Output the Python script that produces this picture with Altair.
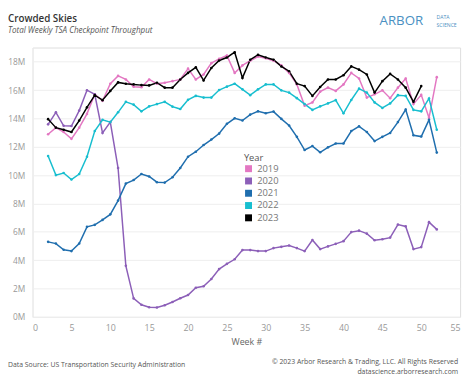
import altair as alt
import pandas as pd

weeks = list(range(2, 53))
weeks_2023 = list(range(2, 51))

y2019 = [12.88, 13.35, 13.04, 12.56, 13.35, 14.32, 15.70, 15.24, 16.45, 17.00,
         16.75, 16.24, 16.20, 16.75, 16.45, 16.52, 16.63, 16.75, 17.51, 16.75,
         17.10, 17.90, 18.20, 18.44, 17.21, 17.74, 18.07, 18.37, 18.25, 18.07,
         17.74, 17.21, 16.40, 14.90, 15.13, 15.89, 16.17, 15.94, 16.40, 17.21,
         16.82, 15.47, 15.70, 15.98, 15.43, 16.17, 16.82, 15.01, 15.66, 14.04,
         16.91]
y2020 = [13.58, 14.43, 13.48, 13.46, 14.55, 15.99, 15.70, 12.97, 13.74, 10.50,
         3.60, 1.30, 0.85, 0.68, 0.66, 0.82, 1.05, 1.31, 1.54, 2.05,
         2.16, 2.67, 3.37, 3.74, 4.06, 4.71, 4.71, 4.64, 4.64, 4.85,
         4.94, 5.03, 4.85, 4.64, 5.42, 4.78, 4.97, 5.15, 5.34, 5.98,
         6.08, 5.87, 5.40, 5.47, 5.59, 6.51, 6.38, 4.78, 4.92, 6.68,
         6.17]
y2021 = [5.29, 5.17, 4.73, 4.64, 5.17, 6.35, 6.49, 6.84, 7.23, 8.20,
         9.40, 9.65, 10.08, 9.90, 9.50, 9.47, 9.85, 10.50, 11.30, 11.65,
         12.12, 12.51, 12.93, 13.62, 14.01, 13.85, 14.27, 14.50, 14.36, 14.48,
         13.97, 13.50, 12.70, 11.77, 12.05, 11.61, 11.96, 12.23, 12.23, 13.11,
         13.44, 13.04, 12.40, 12.70, 12.97, 13.74, 14.62, 12.81, 12.72, 13.90,
         11.59]
y2022 = [11.35, 10.00, 10.15, 9.69, 10.08, 11.30, 13.11, 13.90, 13.74, 14.43,
         15.17, 14.97, 14.50, 14.85, 15.01, 15.17, 14.83, 14.66, 15.31, 15.59,
         15.47, 15.47, 16.00, 16.24, 16.45, 16.05, 15.64, 16.05, 16.40, 16.40,
         15.98, 15.82, 15.43, 15.01, 14.60, 14.85, 15.06, 15.29, 14.36, 15.30,
         16.10, 15.82, 15.13, 14.74, 15.06, 15.64, 15.59, 14.60, 14.50, 15.41,
         13.20]
y2023 = [13.95, 13.35, 13.20, 13.04, 13.85, 14.78, 15.64, 15.29, 15.94, 16.54,
         16.45, 16.40, 16.35, 16.33, 16.52, 16.17, 16.17, 16.75, 17.21, 17.60,
         16.68, 17.56, 18.09, 18.30, 18.67, 16.86, 18.14, 18.48, 18.30, 18.14,
         17.67, 17.33, 16.45, 16.28, 15.59, 16.22, 16.75, 16.75, 17.05, 17.67,
         17.44, 17.10, 15.82, 16.63, 17.14, 16.75, 16.17, 15.17, 16.28]

years = ["2019", "2020", "2021", "2022", "2023"]
colors = ["#e377c2", "#8c5fb8", "#1f6eae", "#17becf", "#000000"]
y_ticks = [0, 2, 4, 6, 8, 10, 12, 14, 16, 18]
x_ticks = [0, 5, 10, 15, 20, 25, 30, 35, 40, 45, 50, 55]

rows = []
for yr, wk, vals in [("2019", weeks, y2019), ("2020", weeks, y2020), ("2021", weeks, y2021),
                     ("2022", weeks, y2022), ("2023", weeks_2023, y2023)]:
    for w, v in zip(wk, vals):
        rows.append({"Year": yr, "Week": w, "Value": v})
df = pd.DataFrame(rows)

FONT = "Open Sans"
W, H = 435, 274

lines = alt.Chart(df).mark_line(
    strokeWidth=1.5,
    point=alt.OverlayMarkDef(size=7, filled=True),
).encode(
    x=alt.X("Week:Q", scale=alt.Scale(domain=[0, 55], nice=False),
            axis=alt.Axis(values=x_ticks, title="Week #", grid=False, domainColor="#eeeeee",
                          ticks=False, labelPadding=7, titlePadding=5, labelFontSize=9,
                          labelColor="#999999", titleFontSize=9, titleColor="#666666",
                          titleFontWeight="normal", labelFont=FONT, titleFont=FONT)),
    y=alt.Y("Value:Q", scale=alt.Scale(domain=[0, 19], nice=False),
            axis=alt.Axis(values=y_ticks, title=None, labelExpr="datum.value + 'M'",
                          ticks=False, domainColor="#eeeeee", gridColor="#eeeeee",
                          labelPadding=8, labelFontSize=8.5, labelColor="#999999",
                          labelFont=FONT)),
    color=alt.Color("Year:N", scale=alt.Scale(domain=years, range=colors),
                    legend=alt.Legend(title="Year", orient="none", legendX=215, legendY=107,
                                      padding=0, symbolType="square", symbolSize=50,
                                      symbolStrokeWidth=0, titleFontSize=9.5,
                                      titleColor="#555555", titleFontWeight="normal",
                                      labelFontSize=9.5, labelColor="#777777",
                                      rowPadding=1.5, titlePadding=2,
                                      labelFont=FONT, titleFont=FONT)),
    order=alt.Order("Week:Q"),
)

def txt(text, x, y, size, color, align="left", weight="normal", style="normal", font=FONT):
    return alt.Chart(alt.Data(values=[{}])).mark_text(
        text=text, align=align, baseline="middle", fontSize=size, color=color,
        fontWeight=weight, fontStyle=style, font=font,
    ).encode(x=alt.value(x), y=alt.value(y))

title = txt("Crowded Skies", -25, -29.5, 10, "#333333", weight=600)
subtitle = txt("Total Weekly TSA Checkpoint Throughput", -25, -17, 8.2, "#555555", style="italic")
logo1 = txt("ARBOR", 353, -27, 13.5, "#4a90c2")
logo2 = txt("DATA", 411, -31.5, 5.2, "#4a90c2")
logo3 = txt("SCIENCE", 411, -23, 5.2, "#4a90c2")
foot1 = txt("Data Source: US Transportation Security Administration", -25, 323, 7, "#555555")
foot2 = txt("\u00a9 2023 Arbor Research & Trading, LLC. All Rights Reserved", 433, 320, 7, "#555555", align="right")
foot3 = txt("datascience.arborresearch.com", 433, 330, 7, "#555555", align="right")

chart = alt.layer(lines, title, subtitle, logo1, logo2, logo3, foot1, foot2, foot3).properties(
    width=W, height=H,
    autosize=alt.AutoSizeParams(type="none"),
    padding={"left": 25, "top": 37, "right": 6, "bottom": 60},
).configure_view(stroke=None).configure(background="white")

chart.save("out.html", embed_options={"renderer": "svg", "actions": False})
